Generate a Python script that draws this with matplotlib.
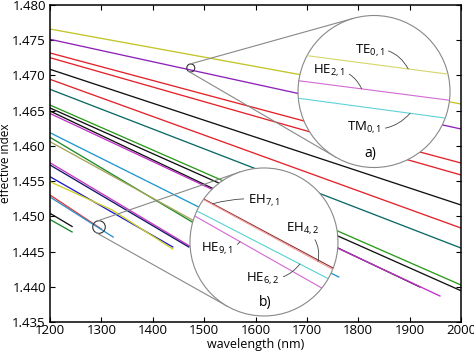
import numpy as np
import matplotlib.pyplot as plt
from matplotlib.patches import Circle
from matplotlib.transforms import IdentityTransform

plt.rcParams['font.family'] = ['Open Sans', 'DejaVu Sans']
plt.rcParams['mathtext.default'] = 'regular'
plt.rcParams['font.size'] = 9

# ---- main plot data (wavelength in nm, effective index) ----
# modes that are still guided at 2000 nm
wl_long = [1200, 2000]
n_long_start = [1.47659, 1.47513, 1.47319, 1.47252, 1.47087, 1.46945, 1.46803, 1.46580, 1.46538]
n_long_end = [1.46595, 1.46240, 1.45757, 1.45587, 1.45161, 1.44834, 1.44550, 1.44025, 1.43944]
col_long = ['#c4c428', '#8c22b8', '#e3222a', '#e3222a', '#111111', '#e3222a', '#0b6a66', '#2a9a1a', '#111111']

# modes with a cut-off below 2000 nm
n_cut_start = [1.46495, 1.46460, 1.46187, 1.46122, 1.46060, 1.45761, 1.45729, 1.45563, 1.45303, 1.45274, 1.45043, 1.44955]
wl_cut_end = [1920, 1959, 1762, 1650, 1640, 1560, 1470, 1439, 1300, 1323, 1243, 1243]
n_cut_end = [1.43997, 1.43869, 1.44139, 1.44167, 1.44295, 1.44195, 1.44565, 1.44565, 1.44820, 1.44706, 1.44856, 1.44778]
col_cut = ['#111111', '#c030c8', '#2098cc', '#1a8a2a', '#a4a458', '#c838c0', '#15156a', '#1c1cd0',
           '#e03838', '#3090c8', '#111111', '#1a8a2a']

# mode bending near its cut-off
wl_bend = [1200, 1321, 1439]
n_bend = [1.45492, 1.45090, 1.44536]
col_bend = '#d0d020'

# ---- magnified views ----
wl_a = [1462, 1478]
n_te01 = [1.471475, 1.471222]
n_he21 = [1.471143, 1.470893]
n_tm01 = [1.470920, 1.470660]

wl_b = [1280, 1306]
n_eh71 = [1.449385, 1.447996]
n_eh42 = [1.449373, 1.447968]
n_he62 = [1.449108, 1.447767]
n_he91 = [1.449004, 1.447530]

# spots that are magnified (data coords) and the centres of the big circles
spot_a, spot_a_r = (1474.0, 1.47106), 4.0
big_a, big_a_r = (1830.7, 1.46772), 76.0
spot_b, spot_b_r = (1295.4, 1.44848), 6.3
big_b, big_b_r = (1616.5, 1.44636), 74.0

xmin, xmax, ymin, ymax = 1200, 2000, 1.435, 1.480

fig = plt.figure(figsize=(4.74, 3.53), dpi=100)
ax = fig.add_axes([50 / 474, 1 - 322 / 353, 411 / 474, 317 / 353])

for a, b, c in zip(n_long_start, n_long_end, col_long):
    ax.plot(wl_long, [a, b], color=c, lw=0.95)
for a, w, b, c in zip(n_cut_start, wl_cut_end, n_cut_end, col_cut):
    ax.plot([1200, w], [a, b], color=c, lw=0.95)
ax.plot(wl_bend, n_bend, color=col_bend, lw=0.95)

ax.set_xlim(xmin, xmax)
ax.set_ylim(ymin, ymax)
ax.set_xticks(np.arange(1200, 2001, 100))
ax.set_yticks(np.arange(1.435, 1.4801, 0.005))
ax.yaxis.set_major_formatter(plt.FormatStrFormatter('%.3f'))
ax.tick_params(direction='in', top=True, right=True, length=3.5, width=0.8,
               labelsize=9.5, pad=1.5)
ax.tick_params(axis='y', pad=3)
for s in ax.spines.values():
    s.set_linewidth(1.1)
ax.set_xlabel('wavelength (nm)', labelpad=1)
ax.set_ylabel('effective index', fontsize=8.5)
ax.yaxis.set_label_coords(-0.092, 0.5)


def to_disp(pt):
    return ax.transData.transform(pt)


def tangents(c1, r1, c2, r2):
    d = c2 - c1
    L = np.hypot(*d)
    u = d / L
    ct = (r1 - r2) / L
    st = np.sqrt(1 - ct ** 2)
    segs = []
    for s in (1, -1):
        nv = np.array([u[0] * ct - s * u[1] * st, s * u[0] * st + u[1] * ct])
        segs.append((c1 + r1 * nv, c2 + r2 * nv))
    return segs


W, H = ax.bbox.width, ax.bbox.height
for spot, sr, big, br in [(spot_a, spot_a_r, big_a, big_a_r), (spot_b, spot_b_r, big_b, big_b_r)]:
    c1, c2 = to_disp(spot), to_disp(big)
    ax.add_patch(Circle(c1, sr, transform=IdentityTransform(), fill=False,
                        ec='#333333', lw=0.8, zorder=4))
    for p, q in tangents(c1, sr, c2, br):
        ax.plot([p[0], q[0]], [p[1], q[1]], color='#888888', lw=0.8,
                transform=IdentityTransform(), zorder=4)

ax.set_xlim(xmin, xmax)
ax.set_ylim(ymin, ymax)


def make_inset(big, br):
    fx = (big[0] - xmin) / (xmax - xmin)
    fy = (big[1] - ymin) / (ymax - ymin)
    ins = ax.inset_axes([fx - br / W, fy - br / H, 2 * br / W, 2 * br / H])
    ins.patch.set_visible(False)
    ins.set_axis_off()
    circ = Circle((0.5, 0.5), 0.5, transform=ins.transAxes, fc='white',
                  ec='#888888', lw=0.8, zorder=0, clip_on=False)
    ins.add_patch(circ)
    return ins, circ


leader = dict(arrowstyle='-', color='#444444', lw=0.6, shrinkA=1, shrinkB=0)
fs_in = 9.5

# inset a)
ia, ca = make_inset(big_a, big_a_r)
for n, c in [(n_te01, '#d6d66a'), (n_he21, '#d26ad2'), (n_tm01, '#5fd2d8')]:
    ln, = ia.plot(wl_a, n, color=c, lw=0.8)
    ln.set_clip_path(ca)
ia.set_xlim(wl_a)
ia.set_ylim(1.47004, 1.47197)
lam = 1473.6
ia.annotate('TE$_{0,1}$', xy=(lam, np.interp(lam, wl_a, n_te01)), xytext=(0.47, 0.775),
            textcoords='axes fraction', ha='center', va='center', fontsize=fs_in,
            arrowprops=dict(leader, connectionstyle='arc3,rad=-0.35'))
lam = 1468.7
ia.annotate('HE$_{2,1}$', xy=(lam, np.interp(lam, wl_a, n_he21)), xytext=(0.205, 0.64),
            textcoords='axes fraction', ha='center', va='center', fontsize=fs_in,
            arrowprops=dict(leader, connectionstyle='arc3,rad=-0.35'))
lam = 1473.8
ia.annotate('TM$_{0,1}$', xy=(lam, np.interp(lam, wl_a, n_tm01)), xytext=(0.435, 0.265),
            textcoords='axes fraction', ha='center', va='center', fontsize=fs_in,
            arrowprops=dict(leader, connectionstyle='arc3,rad=0.3'))
ia.text(0.475, 0.09, 'a)', transform=ia.transAxes, ha='center', va='center', fontsize=10)

# inset b)
ib, cb = make_inset(big_b, big_b_r)
for n, c in [(n_eh71, '#8a2c2c'), (n_eh42, '#f29a9a'), (n_he62, '#55d2d2'), (n_he91, '#d466d4')]:
    ln, = ib.plot(wl_b, n, color=c, lw=0.8)
    ln.set_clip_path(cb)
ib.set_xlim(wl_b)
ib.set_ylim(1.4472, 1.4498)
lam = 1284.0
ib.annotate('EH$_{7,1}$', xy=(lam, np.interp(lam, wl_b, n_eh71)), xytext=(0.5, 0.785),
            textcoords='axes fraction', ha='center', va='center', fontsize=fs_in,
            arrowprops=dict(leader, connectionstyle='arc3,rad=0.1'))
lam = 1302.5
ib.annotate('EH$_{4,2}$', xy=(lam, np.interp(lam, wl_b, n_eh42)), xytext=(0.76, 0.595),
            textcoords='axes fraction', ha='center', va='center', fontsize=fs_in,
            arrowprops=dict(leader, connectionstyle='arc3,rad=-0.35'))
lam = 1288.8
ib.annotate('HE$_{9,1}$', xy=(lam, np.interp(lam, wl_b, n_he91)), xytext=(0.185, 0.455),
            textcoords='axes fraction', ha='center', va='center', fontsize=fs_in,
            arrowprops=dict(leader, connectionstyle='arc3,rad=0.3'))
lam = 1299.3
ib.annotate('HE$_{6,2}$', xy=(lam, np.interp(lam, wl_b, n_he62)), xytext=(0.49, 0.255),
            textcoords='axes fraction', ha='center', va='center', fontsize=fs_in,
            arrowprops=dict(leader, connectionstyle='arc3,rad=0.3'))
ib.text(0.505, 0.088, 'b)', transform=ib.transAxes, ha='center', va='center', fontsize=10)

fig.savefig('out.png', dpi=100)
